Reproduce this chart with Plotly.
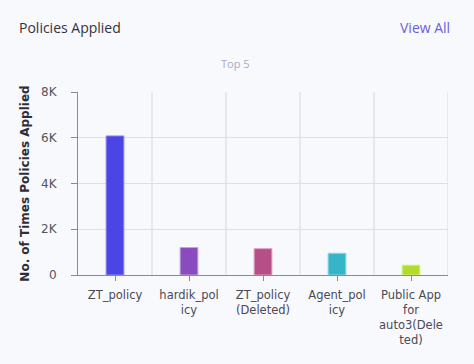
import plotly.graph_objects as go

categories = ["ZT_policy", "hardik_pol<br>icy", "ZT_policy<br>(Deleted)", "Agent_pol<br>icy", "Public App<br>for<br>auto3(Dele<br>ted)"]
values = [6080, 1200, 1150, 950, 430]
bar_colors = ["#4b45e6", "#8a4cbd", "#b64f88", "#36b4c8", "#b3db2c"]
line_colors = ["#8e8af0", "#c3a0e6", "#e0a0c4", "#8ad8e6", "#d8ee90"]
y_tickvals = [0, 2000, 4000, 6000, 8000]
y_ticktext = ["0", "2K", "4K", "6K", "8K"]

W, H = 474, 364
L, R, T, B = 78, 26, 92, 89
pw, ph = W - L - R, H - T - B

def px(x):
    return (x - L) / pw

def py(y):
    return (H - B - y) / ph

bg = "#f8f9fd"
fig = go.Figure(go.Bar(
    x=categories, y=values, width=0.24,
    marker=dict(color=bar_colors, line=dict(color=line_colors, width=1)),
))

shapes = []
for i in range(len(categories)):
    shapes.append(dict(type="line", xref="x", yref="paper", x0=i + 0.5, x1=i + 0.5,
                       y0=0, y1=1, line=dict(color="#d6d7e0", width=1), layer="below"))

fig.update_layout(
    width=W, height=H,
    margin=dict(l=L, r=R, t=T, b=B, autoexpand=False),
    paper_bgcolor=bg, plot_bgcolor=bg,
    showlegend=False,
    shapes=shapes,
    font=dict(family="DejaVu Sans", size=11, color="#444"),
    xaxis=dict(
        showgrid=False, showline=True, linecolor="#8a8a93", linewidth=1,
        ticks="outside", ticklen=5, tickcolor="#8a8a93",
        ticklabelstandoff=4,
        tickfont=dict(family="DejaVu Sans", size=11.5, color="#4a4a55"),
        range=[-0.5, 4.5],
    ),
    yaxis=dict(
        range=[0, 8000], tickvals=y_tickvals, ticktext=y_ticktext,
        showgrid=True, gridcolor="#dedfe7", gridwidth=1,
        showline=True, linecolor="#8a8a93", linewidth=1,
        ticks="outside", ticklen=6, tickcolor="#8a8a93",
        ticklabelstandoff=12,
        tickfont=dict(family="DejaVu Sans", size=12, color="#555560"),
        zeroline=False,
        title=dict(text="<b>No. of Times Policies Applied</b>", standoff=8,
                   font=dict(family="DejaVu Sans", size=12, color="#2e2e3a")),
    ),
    annotations=[
        dict(text="Policies Applied", xref="paper", yref="paper", x=px(17), y=py(27),
             xanchor="left", yanchor="middle", showarrow=False,
             font=dict(family="Open Sans", size=14, color="#33333d")),
        dict(text="View All", xref="paper", yref="paper", x=px(452), y=py(27),
             xanchor="right", yanchor="middle", showarrow=False,
             font=dict(family="Open Sans", size=14, color="#6a5de0")),
        dict(text="Top 5", xref="paper", yref="paper", x=px(235), y=py(63),
             xanchor="center", yanchor="middle", showarrow=False,
             font=dict(family="Open Sans", size=11, color="#a9abc6")),
    ],
)

fig.write_html("out.html")
